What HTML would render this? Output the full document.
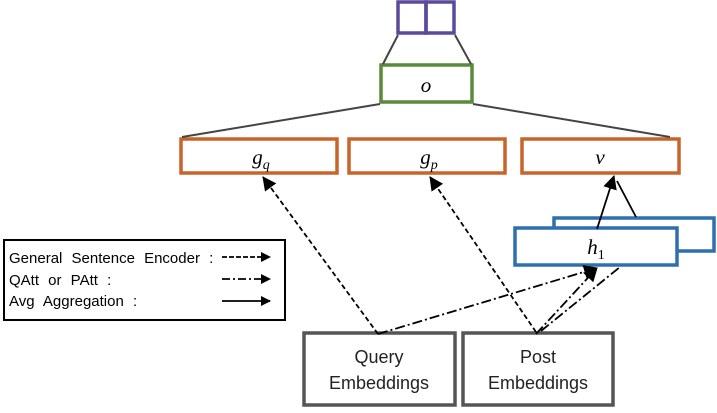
<!DOCTYPE html>
<html><head><style>body{margin:0;background:#fff}svg{display:block}</style></head><body>
<svg width="717" height="413" viewBox="0 0 717 413" xmlns="http://www.w3.org/2000/svg">
<defs>
<marker id="a" markerWidth="10" markerHeight="10" refX="9" refY="5" orient="auto" markerUnits="userSpaceOnUse"><path d="M0,0 L10,5 L0,10 Z" fill="#000"/></marker>
<marker id="b" markerWidth="14" markerHeight="14" refX="13" refY="7" orient="auto" markerUnits="userSpaceOnUse"><path d="M0,0 L14,7 L0,14 Z" fill="#000"/></marker>
</defs>
<g fill="none" stroke-width="3.5">
<rect x="398" y="2" width="28" height="31" stroke="#5b4a9a"/>
<rect x="426" y="2" width="28" height="31" stroke="#5b4a9a"/>
<rect x="381" y="65" width="91" height="37" stroke="#5a8a3a"/>
<rect x="181" y="139" width="156" height="34" stroke="#c8642a"/>
<rect x="349" y="139" width="156" height="34" stroke="#c8642a"/>
<rect x="522" y="139" width="157" height="34" stroke="#c8642a"/>
<rect x="554" y="218" width="160" height="33" stroke="#2e6fb0"/>
<rect x="515" y="228" width="162" height="37" stroke="#2e6fb0" fill="#fff"/>
<rect x="304" y="333" width="151" height="72" stroke="#555"/>
<rect x="463" y="333" width="150" height="72" stroke="#555"/>
</g>
<g stroke="#444" stroke-width="2">
<line x1="398" y1="35" x2="383" y2="64"/>
<line x1="455" y1="35" x2="471" y2="64"/>
<line x1="380" y1="104" x2="182" y2="137"/>
<line x1="473" y1="104" x2="670" y2="137"/>
</g>
<g stroke="#000" stroke-width="1.8" fill="none">
<line x1="378" y1="334" x2="263" y2="177" stroke-dasharray="5,3" marker-end="url(#b)"/>
<line x1="536" y1="332" x2="430" y2="177" stroke-dasharray="5,3" marker-end="url(#b)"/>
<line x1="378" y1="334" x2="597" y2="268" stroke-dasharray="10,3,2,3" marker-end="url(#b)"/>
<line x1="536" y1="334" x2="597" y2="268" stroke-dasharray="10,3,2,3" marker-end="url(#b)"/>
<line x1="541" y1="331" x2="620" y2="267" stroke-dasharray="10,3,2,3"/>
<line x1="597" y1="229" x2="614" y2="176" marker-end="url(#b)"/>
<line x1="636" y1="217" x2="617" y2="181"/>
</g>
<rect x="4" y="240" width="281" height="80" fill="none" stroke="#000" stroke-width="2"/>
<g font-family="Liberation Sans, sans-serif" font-size="15" fill="#000" word-spacing="5">
<text x="9" y="263">General Sentence Encoder :</text>
<text x="9" y="285">QAtt or PAtt :</text>
<text x="9" y="306">Avg Aggregation  :</text>
</g>
<g stroke="#000" stroke-width="1.8">
<line x1="222" y1="257" x2="270" y2="257" stroke-dasharray="5,2" marker-end="url(#a)"/>
<line x1="222" y1="279" x2="270" y2="279" stroke-dasharray="8,3,2,3" marker-end="url(#a)"/>
<line x1="222" y1="301" x2="270" y2="301" marker-end="url(#a)"/>
</g>
<g font-family="Liberation Serif, serif" font-style="italic" font-size="21" fill="#000" text-anchor="middle">
<text x="426" y="92">o</text>
<text x="261" y="164">g<tspan font-size="14" dy="5">q</tspan></text>
<text x="429" y="164">g<tspan font-size="14" dy="5">p</tspan></text>
<text x="600" y="164">v</text>
<text x="596" y="254">h<tspan font-size="14" dy="5" font-style="normal">1</tspan></text>
</g>
<g font-family="Liberation Sans, sans-serif" font-size="18" fill="#222" text-anchor="middle">
<text x="379" y="363">Query</text>
<text x="379" y="389">Embeddings</text>
<text x="538" y="363">Post</text>
<text x="538" y="389">Embeddings</text>
</g>
</svg>
</body></html>
